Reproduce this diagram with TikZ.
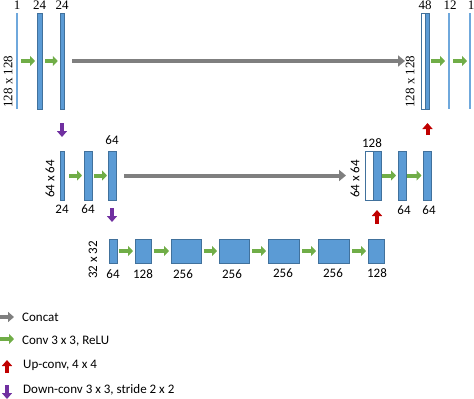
\documentclass[tikz,border=0pt]{standalone}
\usepackage{fontspec}
\setmainfont{Carlito}
\newfontfamily\serifnum{Liberation Serif}
\usetikzlibrary{arrows.meta}
\definecolor{barblue}{HTML}{5B9BD5}
\definecolor{barline}{HTML}{41719C}
\definecolor{thinblue}{HTML}{6FA8DC}
\definecolor{convgreen}{HTML}{70AD47}
\definecolor{catgray}{HTML}{7F7F7F}
\definecolor{upred}{HTML}{C00000}
\definecolor{downpurple}{HTML}{7030A0}
\begin{document}
\begin{tikzpicture}[x=1pt,y=-1pt,
  font=\fontsize{13}{15}\selectfont,
  bar/.style n args={2}{draw=barline, line width=0.4pt, fill=barblue, inner sep=0pt, outer sep=0pt, minimum width=#1, minimum height=#2},
  thinbar/.style={draw=none, fill=thinblue, inner sep=0pt, outer sep=0pt, minimum width=2pt, minimum height=#1},
  conv/.style={draw=convgreen, line width=4pt, -{Triangle[length=5pt,width=10pt]}},
  cat/.style={draw=catgray, line width=4pt, -{Triangle[length=7pt,width=11pt]}},
  up/.style={draw=upred, line width=4pt, -{Triangle[length=6pt,width=10pt]}},
  down/.style={draw=downpurple, line width=4pt, -{Triangle[length=6pt,width=10pt]}},
  num/.style={inner sep=0pt, anchor=base},
  snum/.style={inner sep=0pt, anchor=base, font=\fontsize{13}{15}\serifnum},
  dim/.style={inner sep=0pt, rotate=90},
  sdim/.style={inner sep=0pt, rotate=90, font=\fontsize{13}{15}\serifnum},
  leg/.style={inner sep=0pt, anchor=base west}]
\useasboundingbox (0,0) rectangle (474,399);

% ---------- top row ----------
\node[thinbar=96pt] (t1) at (17,61) {};
\node[bar={5pt}{96pt}] (t2) at (39.5,61) {};
\node[bar={4.5pt}{96pt}] (t3) at (62,61) {};
\node[bar={8pt}{96pt}, fill=white] (t4) at (425,61) {};
\node[bar={4pt}{96pt}] (t4b) at (427,61) {};
\node[thinbar=96pt] (t5) at (449,61) {};
\node[thinbar=96pt] (t6) at (470,61) {};

\node[snum] (lt1) at (17,9.5) {1};
\node[snum] (lt2) at (39.5,9.5) {24};
\node[snum] (lt3) at (62,9.5) {24};
\node[snum] (lt4) at (425,9.5) {48};
\node[snum] (lt5) at (450,9.5) {12};
\node[snum] (lt6) at (471,9.5) {1};
\node[sdim] (dt1) at (8,81.5) {128 x 128};
\node[sdim] (dt2) at (410,81.5) {128 x 128};

\draw[conv] ([xshift=3pt]t1.east) -- ([xshift=-2pt]t2.west);
\draw[conv] ([xshift=3pt]t2.east) -- ([xshift=-2pt]t3.west);
\draw[cat] ([xshift=8pt]t3.east) -- ([xshift=-16pt]t4.west);
\draw[conv] ([xshift=2pt]t4.east) -- ([xshift=-3pt]t5.west);
\draw[conv] ([xshift=3pt]t5.east) -- ([xshift=-2pt]t6.west);

% ---------- middle row ----------
\node[bar={4.5pt}{49pt}] (m1) at (62,175.5) {};
\node[bar={8pt}{49pt}] (m2) at (88,175.5) {};
\node[bar={8pt}{49pt}] (m3) at (112,175.5) {};
\node[bar={16pt}{49pt}, fill=white] (m4) at (373,175.5) {};
\node[bar={8pt}{49pt}] (m4b) at (377,175.5) {};
\node[bar={8pt}{49pt}] (m5) at (402,175.5) {};
\node[bar={8pt}{49pt}] (m6) at (427.5,175.5) {};

\node[num] (lm1) at (62,213) {24};
\node[num] (lm2) at (88,213) {64};
\node[num] (lm3) at (112,144) {64};
\node[num] (lm4) at (372,147) {128};
\node[num] (lm5) at (404,214) {64};
\node[num] (lm6) at (429,214) {64};
\node[dim] (dm1) at (50,179) {64 x 64};
\node[dim] (dm2) at (355,179) {64 x 64};

\draw[conv] ([xshift=5pt]m1.east) -- ([xshift=-2pt]m2.west);
\draw[conv] ([xshift=2pt]m2.east) -- ([xshift=-1pt]m3.west);
\draw[cat] ([xshift=8pt]m3.east) -- ([xshift=-19pt]m4.west);
\draw[conv] ([xshift=1pt]m4.east) -- ([xshift=-2pt]m5.west);
\draw[conv] ([xshift=1pt]m5.east) -- ([xshift=-2pt]m6.west);

% ---------- bottom row ----------
\node[bar={8pt}{24pt}] (b1) at (113,251) {};
\node[bar={16pt}{24pt}] (b2) at (143,251) {};
\node[bar={30pt}{24pt}] (b3) at (186,251) {};
\node[bar={30pt}{24pt}] (b4) at (234,251) {};
\node[bar={31pt}{24pt}] (b5) at (283.5,251) {};
\node[bar={31pt}{24pt}] (b6) at (333.5,251) {};
\node[bar={16pt}{24pt}] (b7) at (376,251) {};

\node[num] (lb1) at (113,278) {64};
\node[num] (lb2) at (143,278) {128};
\node[num] (lb3) at (183,278) {256};
\node[num] (lb4) at (232,278) {256};
\node[num] (lb5) at (283,277) {256};
\node[num] (lb6) at (333,277) {256};
\node[num] (lb7) at (377,277) {128};
\node[dim] (db1) at (93,260) {32 x 32};

\draw[conv] ([xshift=2pt]b1.east) -- ([xshift=-2pt]b2.west);
\draw[conv] ([xshift=3pt]b2.east) -- ([xshift=-2pt]b3.west);
\draw[conv] ([xshift=3pt]b3.east) -- ([xshift=-2pt]b4.west);
\draw[conv] ([xshift=3pt]b4.east) -- ([xshift=-2pt]b5.west);
\draw[conv] ([xshift=3pt]b5.east) -- ([xshift=-2pt]b6.west);
\draw[conv] ([xshift=3pt]b6.east) -- ([xshift=-2pt]b7.west);

% ---------- vertical arrows ----------
\draw[down] ([yshift=-14pt]t3.south) -- ([yshift=14pt]m1.north);
\draw[down] ([yshift=-8pt]m3.south) -- ([yshift=17pt]m3.south |- b1.north);
\draw[up] ([yshift=15pt]b7.north -| m4b.south) -- ([yshift=-10pt]m4b.south);
\draw[up] ([yshift=16pt]m6.north) -- ([yshift=-14pt]m6.north |- t4b.south);

% ---------- legend ----------
\coordinate (g1a) at (0,317);  \coordinate (g1b) at (14,317);
\coordinate (g2a) at (0,339);  \coordinate (g2b) at (14,339);
\coordinate (g3a) at (7,373);  \coordinate (g3b) at (7,360);
\coordinate (g4a) at (7,385);  \coordinate (g4b) at (7,399);
\draw[cat, -{Triangle[length=6pt,width=10pt]}] (g1a) -- (g1b);
\draw[conv] (g2a) -- (g2b);
\draw[up] (g3a) -- (g3b);
\draw[down] (g4a) -- (g4b);
\node[leg] (gl1) at (22,321) {Concat};
\node[leg] (gl2) at (22,344) {Conv 3 x 3, ReLU};
\node[leg] (gl3) at (23,368.5) {Up-conv, 4 x 4};
\node[leg] (gl4) at (23,393.5) {Down-conv 3 x 3, stride 2 x 2};
\end{tikzpicture}
\end{document}
